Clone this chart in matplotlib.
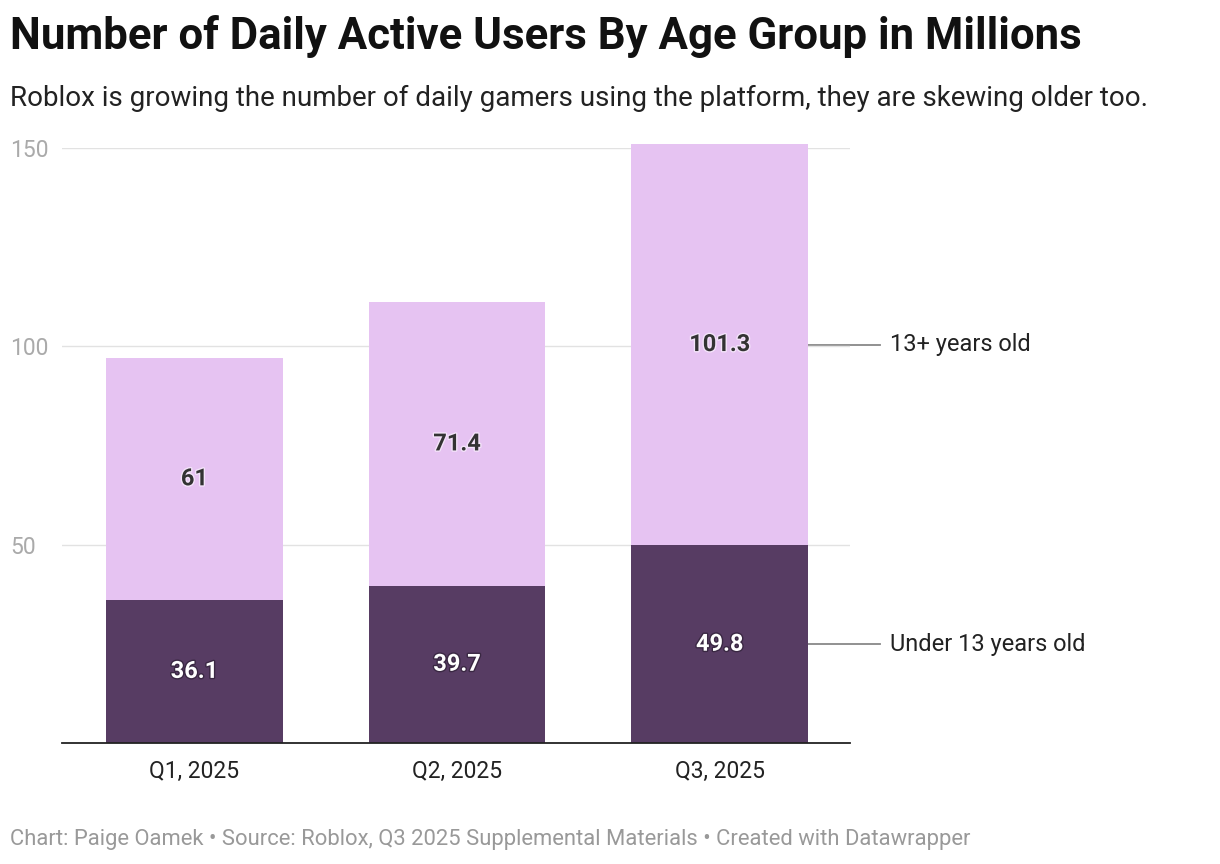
import matplotlib.pyplot as plt
import matplotlib.patheffects as pe

plt.rcParams['font.family'] = ['Roboto', 'DejaVu Sans']

quarters = ['Q1, 2025', 'Q2, 2025', 'Q3, 2025']
under13 = [36.1, 39.7, 49.8]
over13 = [61, 71.4, 101.3]
under13_labels = ['36.1', '39.7', '49.8']
over13_labels = ['61', '71.4', '101.3']

dark = '#573c63'
light = '#e6c3f2'

fig = plt.figure(figsize=(12.2, 8.64), dpi=100)
ax = fig.add_axes([62 / 1220, 1 - 743 / 864, 788 / 1220, 595 / 864])

x = range(len(quarters))
ax.bar(x, under13, width=0.672, color=dark, zorder=2, clip_on=False)
ax.bar(x, over13, width=0.672, bottom=under13, color=light, zorder=2, clip_on=False)

for i in x:
    ax.text(i, under13[i] / 2, under13_labels[i], ha='center', va='center',
            color='white', fontsize=17, fontweight='bold', zorder=3,
            path_effects=[pe.withStroke(linewidth=2, foreground='#3a2843')])
    ax.text(i, under13[i] + over13[i] / 2, over13_labels[i], ha='center', va='center',
            color='#333333', fontsize=17, fontweight='bold', zorder=3,
            path_effects=[pe.withStroke(linewidth=2, foreground='#f4e4fa')])

ax.set_xlim(-0.504, 2.496)
ax.set_ylim(0, 150)
ax.set_yticks([50, 100, 150])
ax.set_xticks(list(x))
ax.set_xticklabels(quarters, fontsize=16.5, color='#222222')
ax.tick_params(axis='x', length=0, pad=12)
ax.tick_params(axis='y', length=0, labelsize=16.5, labelcolor='#aaaaaa', pad=0)
for lbl in ax.get_yticklabels():
    lbl.set_horizontalalignment('left')
    lbl.set_x(-52 / 788)
ax.grid(axis='y', color='#e2e2e2', linewidth=1, zorder=0)
for s in ['top', 'right', 'left']:
    ax.spines[s].set_visible(False)
ax.spines['bottom'].set_color('#222222')
ax.spines['bottom'].set_linewidth(1.3)
ax.spines['bottom'].set_zorder(4)

# series labels on the right
last = len(quarters) - 1
for yv, txt in [(under13[last] / 2, 'Under 13 years old'),
                (under13[last] + over13[last] / 2, '13+ years old')]:
    ax.plot([last + 0.336, last + 0.61], [yv, yv], color='#888888', lw=1.3,
            clip_on=False, zorder=1)
    ax.text(last + 0.65, yv, txt, va='center', ha='left', fontsize=17,
            color='#222222', clip_on=False)

fig.text(10 / 1220, 1 - 36 / 864, 'Number of Daily Active Users By Age Group in Millions',
         fontsize=31.5, fontweight='bold', va='center', ha='left', color='#111111')
fig.text(10 / 1220, 1 - 98 / 864,
         'Roblox is growing the number of daily gamers using the platform, they are skewing older too.',
         fontsize=20, va='center', ha='left', color='#222222')
fig.text(10 / 1220, 1 - 840 / 864,
         'Chart: Paige Oamek • Source: Roblox, Q3 2025 Supplemental Materials • Created with Datawrapper',
         fontsize=15.8, va='center', ha='left', color='#999999')

fig.savefig('out.png', dpi=100)
